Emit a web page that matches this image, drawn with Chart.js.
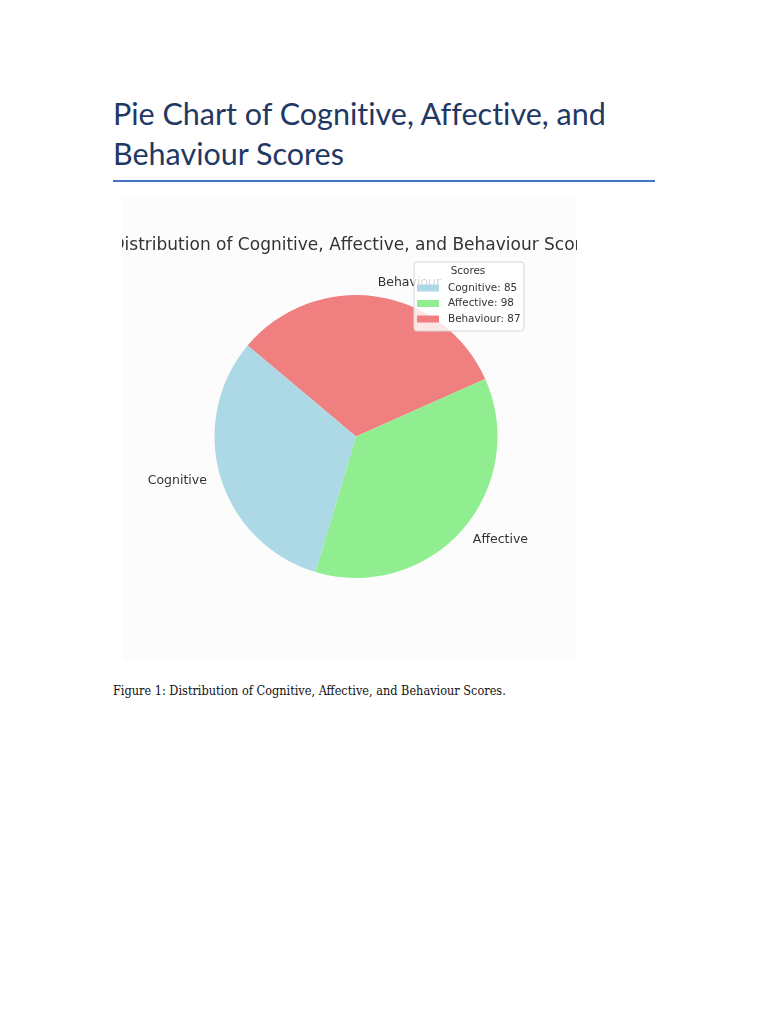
<!DOCTYPE html>
<html>
<head>
<meta charset="utf-8">
<script src="https://cdn.jsdelivr.net/npm/chart.js@4.4.0/dist/chart.umd.min.js"></script>
<style>
  html, body { margin: 0; padding: 0; background: #ffffff; }
  body { width: 768px; height: 1024px; position: relative; overflow: hidden; }
  #heading {
    position: absolute; left: 113px; top: 93px; width: 580px;
    font-family: Lato, "Open Sans", sans-serif; font-weight: 400;
    font-size: 30.5px; line-height: 40px; color: #1f3864; margin: 0;
    font-variant-ligatures: none; font-feature-settings: "liga" 0;
  }
  #rule { position: absolute; left: 113px; top: 180px; width: 542px; height: 2px; background: #4472c4; }
  #figure { position: absolute; left: 122px; top: 198px; width: 455px; height: 464px; background: #fcfcfc; }
  #caption {
    position: absolute; left: 113px; top: 683px;
    font-family: "DejaVu Serif Condensed", "DejaVu Serif", serif; font-stretch: condensed;
    font-size: 12.6px; color: #111;
    white-space: nowrap;
  }
</style>
</head>
<body>
<h1 id="heading">Pie Chart of Cognitive, Affective, and Behaviour Scores</h1>
<div id="rule"></div>
<div id="figure"><canvas id="chart" width="455" height="464"></canvas></div>
<div id="caption">Figure 1: Distribution of Cognitive, Affective, and Behaviour Scores.</div>
<script>
const categories = ['Cognitive', 'Affective', 'Behaviour'];
const scores = [85, 98, 87];
const sliceColors = ['#add8e6', '#90ee90', '#f08080'];
const chartTitle = 'Distribution of Cognitive, Affective, and Behaviour Scores';
const legendTitle = 'Scores';

// matplotlib draws counter-clockwise; Chart.js draws clockwise, so feed reversed copies
const drawOrder = categories.map((_, i) => i).reverse();

const textFont = '"DejaVu Sans", sans-serif';

const figPlugin = {
  id: 'figPlugin',
  afterDatasetsDraw(chart) {
    const ctx = chart.ctx;
    const meta = chart.getDatasetMeta(0);
    const area = chart.chartArea;
    const cx = (area.left + area.right) / 2;
    // title
    ctx.save();
    ctx.font = '17px ' + textFont;
    ctx.fillStyle = '#333333';
    ctx.textAlign = 'center';
    ctx.textBaseline = 'middle';
    ctx.fillText(chartTitle, cx, 48);
    ctx.restore();
    // slice labels at 1.1 radius
    ctx.save();
    ctx.font = '12.5px ' + textFont;
    ctx.fillStyle = '#333333';
    ctx.textBaseline = 'middle';
    meta.data.forEach((arc, i) => {
      const p = arc.getProps(['x', 'y', 'startAngle', 'endAngle', 'outerRadius'], true);
      const a = (p.startAngle + p.endAngle) / 2;
      const r = p.outerRadius * 1.1;
      const x = p.x + r * Math.cos(a);
      const y = p.y + r * Math.sin(a);
      ctx.textAlign = Math.cos(a) >= 0 ? 'left' : 'right';
      ctx.fillText(chart.data.labels[i], x, y);
    });
    ctx.restore();
    // legend box
    ctx.save();
    const bx = 292, by = 64, bw = 110, bh = 69, rad = 3;
    ctx.beginPath();
    ctx.moveTo(bx + rad, by);
    ctx.lineTo(bx + bw - rad, by);
    ctx.quadraticCurveTo(bx + bw, by, bx + bw, by + rad);
    ctx.lineTo(bx + bw, by + bh - rad);
    ctx.quadraticCurveTo(bx + bw, by + bh, bx + bw - rad, by + bh);
    ctx.lineTo(bx + rad, by + bh);
    ctx.quadraticCurveTo(bx, by + bh, bx, by + bh - rad);
    ctx.lineTo(bx, by + rad);
    ctx.quadraticCurveTo(bx, by, bx + rad, by);
    ctx.closePath();
    ctx.fillStyle = 'rgba(255,255,255,0.8)';
    ctx.fill();
    ctx.strokeStyle = '#d6d6d6';
    ctx.lineWidth = 1;
    ctx.stroke();
    ctx.font = '10.4px ' + textFont;
    ctx.fillStyle = '#333333';
    ctx.textBaseline = 'middle';
    ctx.textAlign = 'center';
    ctx.fillText(legendTitle, bx + 54, by + 9);
    ctx.textAlign = 'left';
    categories.forEach((c, i) => {
      const yy = by + 26 + i * 15.5;
      ctx.fillStyle = sliceColors[i];
      ctx.fillRect(bx + 3, yy - 3.5, 22, 7);
      ctx.fillStyle = '#333333';
      ctx.fillText(c + ': ' + scores[i], bx + 34, yy);
    });
    ctx.restore();
  }
};

new Chart(document.getElementById('chart'), {
  type: 'pie',
  data: {
    labels: drawOrder.map(i => categories[i]),
    datasets: [{
      data: drawOrder.map(i => scores[i]),
      backgroundColor: drawOrder.map(i => sliceColors[i]),
      borderWidth: 0,
      hoverOffset: 0,
      offset: 0
    }]
  },
  options: {
    responsive: false,
    animation: false,
    rotation: -50,
    layout: { padding: { left: 92.5, right: 79.5, top: 97, bottom: 84 } },
    plugins: {
      legend: { display: false },
      title: { display: false },
      tooltip: { enabled: false }
    }
  },
  plugins: [figPlugin]
});
</script>
</body>
</html>
